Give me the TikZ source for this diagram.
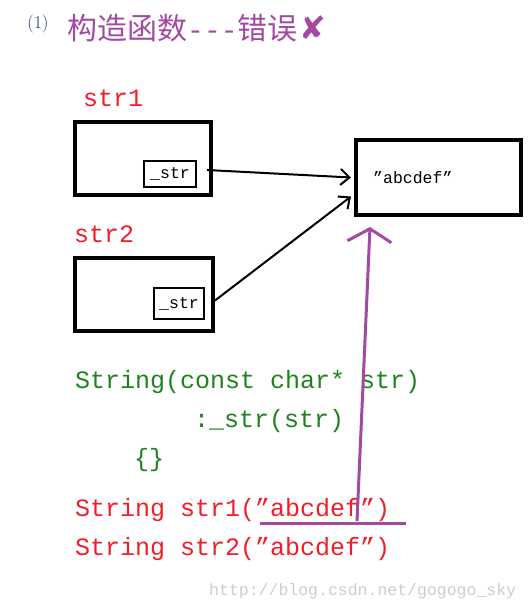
\documentclass[tikz,border=0pt]{standalone}
\usepackage{fontspec}
\setmonofont{Liberation Mono}
\newfontfamily\cjk{Noto Sans CJK SC}
\newfontfamily\symfont{DejaVu Sans}
\usetikzlibrary{arrows.meta,calc}
\definecolor{paintpurple}{RGB}{163,73,164}
\definecolor{codered}{RGB}{240,30,40}
\definecolor{codegreen}{RGB}{30,130,30}
\definecolor{numblue}{RGB}{30,50,120}
\definecolor{wmgray}{RGB}{205,205,205}
\begin{document}
\begin{tikzpicture}[x=1pt, y=-1pt,
    objbox/.style={draw, line width=4pt, inner sep=0pt},
    ptrbox/.style={draw, line width=2pt, inner sep=0pt, font=\ttfamily\fontsize{16.5}{18}\selectfont},
    code/.style={anchor=base west, inner sep=0pt, font=\ttfamily\fontsize{25}{30}\selectfont},
    link/.style={line width=2pt, -{Straight Barb[length=9pt,width=16pt]}},
    marker/.style={paintpurple, line width=3pt}]
  \useasboundingbox (0,0) rectangle (530,609);
  % heading
  \node[text=numblue, font=\fontsize{18}{20}\selectfont] (num) at (38,24) {(1)};
  \node[anchor=base west, inner sep=0pt, text=paintpurple] (title) at (67,40)
    {{\cjk\fontsize{30}{34}\selectfont 构造函数}{\ttfamily\fontsize{28}{34}\selectfont -{}-{}-}{\cjk\fontsize{30}{34}\selectfont 错误}\hspace{2pt}{\symfont\fontsize{32}{34}\selectfont ✘}};
  % objects
  \node[code, text=codered] (lbl1) at (83,107) {str1};
  \node[objbox, minimum width=136, minimum height=73] (str1) at (143,158.5) {};
  \node[ptrbox, minimum width=52, minimum height=26] (p1) at (170,174) {\_str};
  \node[code, text=codered] (lbl2) at (74,243) {str2};
  \node[objbox, minimum width=138, minimum height=73] (str2) at (144,294.5) {};
  \node[ptrbox, minimum width=50, minimum height=31] (p2) at (179,303.5) {\_str};
  \node[objbox, minimum width=165, minimum height=75] (heap) at (438.5,177.5) {};
  \node[anchor=base west, inner sep=0pt, font=\ttfamily\fontsize{16.5}{18}\selectfont] (val) at (373,184) {”abcdef”};
  \draw[link] ($(p1.east)+(10,-4)$) -- ($(heap.west)+(-3,0)$);
  \draw[link] ($(p2.east)+(10,-3)$) -- ($(heap.west)+(-3,19)$);
  % code
  \node[code, text=codegreen] (ctor) at (75,388) {String(const char* str)};
  \node[code, text=codegreen] (init) at (194,427) {:\_str(str)};
  \node[code, text=codegreen] (body) at (134,466) {\{\}};
  \node[code, text=codered] (def1) at (75,516) {String str1(”abcdef”)};
  \node[code, text=codered] (def2) at (75,555) {String str2(”abcdef”)};
  % marks
  \coordinate (ul1) at (260,523);
  \coordinate (ul2) at (406,523);
  \coordinate (src) at (357,521);
  \draw[marker] (ul1) -- (ul2);
  \draw[marker, -{Straight Barb[length=13pt,width=44pt]}] (src) -- ($(heap.south west)+(16,10)$);
  \node[anchor=base west, inner sep=0pt, text=wmgray, font=\ttfamily\fontsize{16.5}{18}\selectfont] (mark) at (209,595) {http://blog.csdn.net/gogogo\_sky};
\end{tikzpicture}
\end{document}
